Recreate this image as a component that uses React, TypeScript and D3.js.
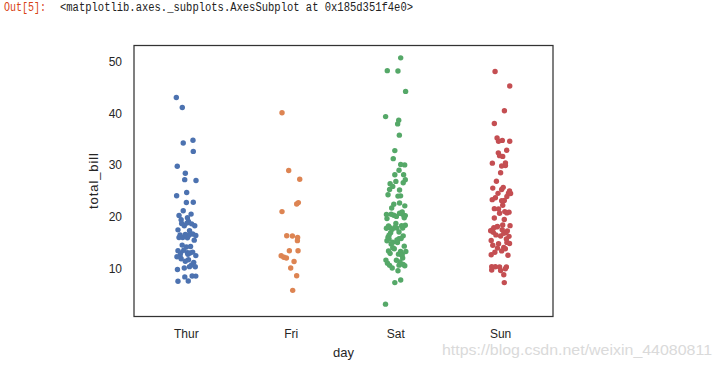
import React from "react";
import * as d3 from "d3";

const categories = ["Thur", "Fri", "Sat", "Sun"];
const colors = ["#4c72b0", "#dd8452", "#55a868", "#c44e52"];
const yTicks = [10, 20, 30, 40, 50];

const thurBill = [27.2, 22.76, 17.29, 19.44, 16.66, 10.07, 32.68, 15.98, 34.83, 13.03, 18.28, 24.71, 21.16,
  10.65, 12.43, 24.08, 11.69, 13.42, 14.26, 15.95, 12.48, 29.8, 8.52, 14.52, 11.38, 22.82, 19.08, 20.27, 11.17,
  12.26, 18.26, 8.51, 10.33, 14.15, 16.0, 13.16, 17.47, 34.3, 41.19, 27.05, 16.43, 8.35, 18.64, 11.87, 9.78, 7.51,
  19.81, 28.44, 15.48, 16.58, 7.56, 10.34, 43.11, 13.0, 13.51, 18.71, 12.74, 13.0, 16.4, 20.53, 16.47, 18.78];
const thurJitter = [-0.16, 0.0, 0.3, -0.5, 0.6, -0.2, 0.66, -0.7, 0.63, 0.1, 0.8, 0.03, -0.3,
  0.5, -0.6, -0.93, 0.2, -0.8, 0.4, 0.1, 0.9, -0.87, 0.55, -0.4, -0.1, 0.66, 0.2, -0.7, 0.7,
  -0.9, -0.2, 0.9, 0.85, 0.0, -0.35, 0.6, -0.8, -0.3, -0.39, 0.92, 0.25, -0.15, 0.5, -0.5, -0.85, -0.8,
  0.1, -0.1, 0.75, -0.1, 0.18, 0.3, -0.96, 0.35, -0.25, -0.45, 0.15, -0.55, 0.9, 0.45, -0.6, 0.05];

const friBill = [28.97, 22.49, 5.75, 16.32, 22.75, 40.17, 27.28, 12.03, 21.01, 12.46, 11.35, 15.38,
  12.16, 13.42, 8.58, 15.98, 13.42, 16.27, 10.09];
const friJitter = [-0.23, 0.53, 0.15, -0.42, 0.69, -0.87, 0.82, -0.45, -0.87, -0.95, 0.28, 0.6,
  -0.7, -0.17, 0.53, 0.62, 0.66, 0.12, -0.04];

const satBill = [20.65, 17.92, 20.29, 15.77, 39.42, 19.82, 17.81, 13.37, 12.69, 21.7, 19.65, 9.55, 18.35,
  15.06, 20.69, 17.78, 24.06, 16.31, 16.93, 18.69, 31.27, 16.04,
  38.01, 26.41, 11.24, 48.27, 20.29, 13.81, 11.02, 18.29, 17.59, 20.08, 16.45, 3.07, 20.23, 15.01, 12.02,
  17.07, 26.86, 25.28, 14.73, 10.51, 17.92,
  44.3, 22.42, 20.92, 15.36, 20.49, 25.21, 18.24, 14.31, 14.0, 7.25,
  10.59, 10.63, 50.81, 15.81,
  26.59, 38.73, 24.27, 12.76, 30.06, 25.89, 48.33, 13.27, 28.17, 12.9, 28.15, 11.59, 7.74, 30.14,
  20.45, 13.28, 22.12, 24.01, 15.69, 11.61, 10.77, 15.53, 10.07, 12.6, 32.83, 35.83, 29.03, 27.18, 22.67, 17.82];
const satJitter = [0.5, -0.6, -0.2, 0.3, -0.98, 0.8, 0.1, -0.7, 0.6, -0.4, -0.85, 0.2, 0.9,
  -0.3, 0.35, -0.9, 0.45, 0.7, -0.5, 0.0, -0.25, -0.75,
  0.17, -0.55, 0.4, 0.2, 0.75, -0.15, -0.8, 0.55, -0.35, 0.05, -0.65, -0.99, 0.9, 0.15, 0.65,
  0.3, 0.0, -0.6, -0.45, 0.85, -0.1,
  0.93, -0.2, 0.6, -0.85, -0.45, 0.35, -0.7, 0.8, -0.3, -0.1,
  -0.6, 0.3, 0.46, 0.5,
  0.7, 0.27, -0.75, 0.25, 0.84, -0.3, -0.82, 0.95, 0.74, -0.55, -0.1, 0.05, 0.46, 0.46,
  -0.9, 0.45, 0.85, 0.2, -0.65, -0.95, 0.7, 0.1, -0.35, 0.55, -0.1, 0.33, 0.3, 0.9, 0.35, 0.65];

const sunBill = [16.99, 10.34, 21.01, 23.68, 24.59, 25.29, 8.77, 26.88, 15.04, 14.78, 10.27, 35.26, 15.42,
  18.43, 14.83, 21.58, 10.33, 16.29, 16.97,
  17.46, 13.94, 9.68, 30.4, 18.29, 22.23, 32.4, 28.55, 18.04, 12.54, 10.29, 34.81, 9.94, 25.56, 19.49,
  38.07, 23.95, 25.71, 17.31, 29.93,
  14.07, 13.13, 17.26, 24.55, 19.77, 29.85, 48.17, 25.0, 13.39, 16.49, 21.5, 12.66, 16.21, 13.81, 17.51,
  24.52, 20.76, 31.71,
  7.25, 31.85, 16.82, 32.9, 17.89, 14.48, 9.6, 34.63, 34.65, 23.33, 45.35, 23.17, 40.55, 20.69, 20.9,
  30.46, 18.15, 23.1, 15.69];
const sunJitter = [-0.7, -0.85, 0.4, -0.5, 0.75, 0.1, 0.3, -0.4, 0.6, -0.2, 0.55, -0.34, -0.9,
  0.2, 0.85, -0.6, -0.5, 0.0, 0.5,
  -0.8, -0.3, -0.85, -0.79, 0.9, 0.2, -0.22, 0.0, -0.35, 0.7, -0.1, 0.16, 0.45, -0.75, 0.35,
  -0.6, 0.6, 0.25, -0.95, 0.46,
  0.3, -0.55, 0.65, -0.25, -0.6, 0.1, -0.53, 0.85, 0.1, -0.45, -0.2, -0.9, 0.8, 0.45, 0.15,
  0.95, 0.6, 0.2,
  0.35, -0.1, 0.3, 0.58, -0.65, -0.75, 0.0, 0.87, -0.2, -0.8, 0.87, 0.35, 0.36, -0.1, 0.8,
  0.46, -0.3, 0.1, 0.55];

const billByDay = [thurBill, friBill, satBill, sunBill];
const jitterByDay = [thurJitter, friJitter, satJitter, sunJitter];

const left = 134, right = 553, top = 45.5, bottom = 316.5;

export default function App() {
  const x = d3.scalePoint<string>().domain(categories).range([left, right]).padding(0.5);
  const step = x.step();
  const y = d3.scaleLinear().domain([0.68, 53.2]).range([bottom, top]);
  const font = "'Liberation Sans', Arial, sans-serif";
  const textColor = "#262626";
  const mono = "'Liberation Mono', 'DejaVu Sans Mono', monospace";

  const points: { cx: number; cy: number; c: string; k: string }[] = [];
  categories.forEach((cat, ci) => {
    billByDay[ci].forEach((v, i) => {
      points.push({
        cx: (x(cat) as number) + jitterByDay[ci][i] * 0.1 * step,
        cy: y(v),
        c: colors[ci],
        k: `${ci}-${i}`,
      });
    });
  });

  return (
    <svg width={720} height={367} style={{ position: "absolute", left: 0, top: 0, background: "#fff" }}>
      <text x={4} y={11} fontFamily={mono} fontSize={12}
        fill="#d84315" textLength={42} lengthAdjust="spacingAndGlyphs">Out[5]:</text>
      <text x={60} y={11} fontFamily={mono} fontSize={12}
        fill="#222" textLength={353} lengthAdjust="spacingAndGlyphs">&lt;matplotlib.axes._subplots.AxesSubplot at 0x185d351f4e0&gt;</text>

      {points.map((p) => (
        <circle key={p.k} cx={p.cx} cy={p.cy} r={2.7} fill={p.c} />
      ))}

      <rect x={left} y={top} width={right - left} height={bottom - top} fill="none" stroke="#333" strokeWidth={1.25} />

      {yTicks.map((t) => (
        <text key={t} x={122} y={y(t)} dy="0.35em" textAnchor="end" fontFamily={font} fontSize={12} fill={textColor}>{t}</text>
      ))}
      {categories.map((c) => (
        <text key={c} x={x(c) as number} y={338} textAnchor="middle" fontFamily={font} fontSize={12} fill={textColor}>{c}</text>
      ))}
      <text x={(left + right) / 2} y={357} textAnchor="middle" fontFamily={font} fontSize={13} fill={textColor}>day</text>
      <text transform={`translate(98, ${(top + bottom) / 2}) rotate(-90)`} textAnchor="middle" fontFamily={font}
        fontSize={13} fill={textColor} textLength={56} lengthAdjust="spacing">total_bill</text>

      <text x={442} y={355} fontFamily={font} fontSize={14.5} fill="#dadada" textLength={270}
        lengthAdjust="spacingAndGlyphs">https://blog.csdn.net/weixin_44080811</text>
    </svg>
  );
}
